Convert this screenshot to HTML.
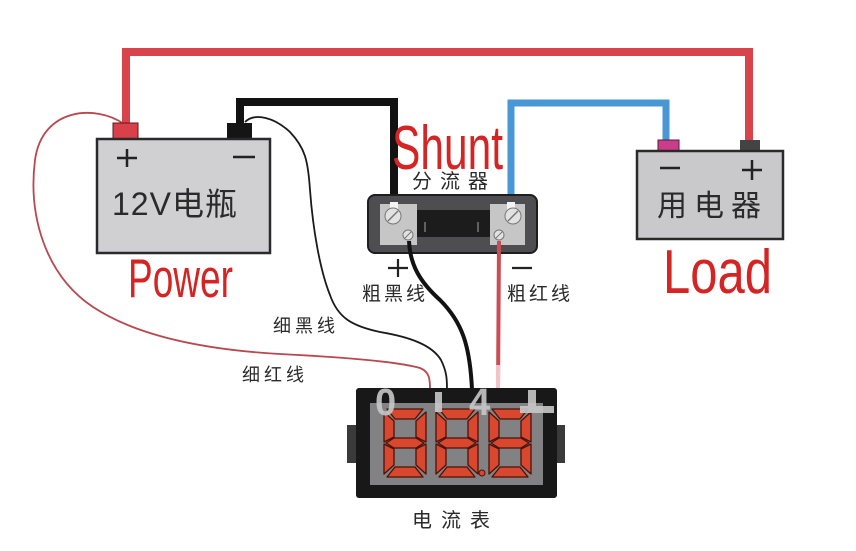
<!DOCTYPE html>
<html>
<head>
<meta charset="utf-8">
<style>
  html,body{margin:0;padding:0;background:#fff;}
  svg{display:block;}
  .cjk{font-family:"Liberation Sans","Noto Sans CJK SC",sans-serif;fill:#2a2a2a;}
  .red{font-family:"Liberation Sans",sans-serif;fill:#d42424;}
</style>
</head>
<body>
<svg width="856" height="551" viewBox="0 0 856 551" xmlns="http://www.w3.org/2000/svg">
  <defs>
    <g id="digit">
      <g fill="#d9472e" stroke="#4a1208" stroke-width="1.3" stroke-linejoin="round">
        <polygon points="4,1 40,1 32,11 12,11"/>
        <polygon points="1,4 11,13 11,29 1,34"/>
        <polygon points="43,4 43,34 33,29 33,13"/>
        <polygon points="3,35 11,30 33,30 41,35 33,40 11,40"/>
        <polygon points="1,36 11,41 11,57 1,66"/>
        <polygon points="43,36 43,66 33,57 33,41"/>
        <polygon points="4,69 12,59 32,59 40,69"/>
      </g>
    </g>
    <clipPath id="meterclip"><rect x="356" y="388" width="201" height="110"/></clipPath>
  </defs>

  <!-- thin red wire -->
  <path d="M124,124 C95,104 42,108 35,160 C28,215 45,275 93,307 C140,338 210,350 280,354 C340,357 395,361 420,368 C430,372 430,380 430,390" fill="none" stroke="#b8474f" stroke-width="1.8"/>
  <!-- thin black wire -->
  <path d="M245,122 C255,112 275,118 290,132 C305,148 308,160 310,190 C313,230 320,270 330,295 C338,318 352,326 380,332 C410,337 432,345 441,360 C447,372 447,380 447,390" fill="none" stroke="#1a1a1a" stroke-width="1.8"/>

  <!-- thick red top wire -->
  <path d="M126,126 V52 H749 V142" fill="none" stroke="#d8434c" stroke-width="8"/>
  <!-- thick black wire -->
  <path d="M240,126 V102 H394 V202" fill="none" stroke="#121212" stroke-width="8"/>
  <!-- blue wire -->
  <path d="M511,206 V103 H666 V142" fill="none" stroke="#4a97d5" stroke-width="7"/>

  <!-- battery -->
  <rect x="113" y="123" width="25" height="16" fill="#d9404a" stroke="#5a1a1a" stroke-width="1"/>
  <rect x="227" y="123" width="25" height="16" fill="#151515"/>
  <rect x="97" y="139" width="173" height="114" fill="#d0d0d2" stroke="#2a2a2a" stroke-width="2.5"/>
  <path d="M117,158 H137 M127,149 V167" stroke="#222" stroke-width="2.5"/>
  <path d="M233,157 H255" stroke="#222" stroke-width="2.5"/>
  <text class="cjk" x="112" y="215" font-size="32" letter-spacing="1">12V电瓶</text>
  <text class="red" x="128" y="297" font-size="55" textLength="105" lengthAdjust="spacingAndGlyphs">Power</text>

  <!-- load -->
  <rect x="658" y="140" width="21" height="11" fill="#c93d8a" stroke="#5a1a3a" stroke-width="1"/>
  <rect x="740" y="140" width="20" height="11" fill="#444"/>
  <rect x="637" y="151" width="146" height="88" fill="#c9c9cb" stroke="#2a2a2a" stroke-width="2.5"/>
  <path d="M660,168 H680" stroke="#222" stroke-width="2.5"/>
  <path d="M742,170 H762 M752,160 V180" stroke="#222" stroke-width="2.5"/>
  <text class="cjk" x="657" y="216" font-size="30" letter-spacing="7">用电器</text>
  <text class="red" x="663" y="293" font-size="62" textLength="109" lengthAdjust="spacingAndGlyphs">Load</text>

  <!-- shunt -->
  <text class="red" x="392" y="169" font-size="62" textLength="111" lengthAdjust="spacingAndGlyphs">Shunt</text>
  <text class="cjk" x="412" y="188" font-size="20" letter-spacing="8">分流器</text>
  <rect x="368" y="195" width="169" height="58" rx="7" fill="#4e4e50" stroke="#1e1e1e" stroke-width="2"/>
  <rect x="380" y="204" width="37" height="41" fill="#c6c6c6"/>
  <rect x="490" y="204" width="35" height="41" fill="#c6c6c6"/>
  <rect x="417" y="210" width="73" height="27" fill="#1c1c1c"/>
  <path d="M425,222 V232 M478,222 V232" stroke="#777" stroke-width="1.5"/>
  <rect x="390" y="202" width="8" height="9" fill="#f4f4f4"/>
  <rect x="507" y="202" width="8" height="9" fill="#f4f4f4"/>
  <circle cx="393" cy="216" r="8" fill="#e2e2e2" stroke="#777" stroke-width="1"/>
  <path d="M388,221 L398,211" stroke="#777" stroke-width="1.5"/>
  <circle cx="513" cy="216" r="8" fill="#e2e2e2" stroke="#777" stroke-width="1"/>
  <path d="M508,221 L518,211" stroke="#777" stroke-width="1.5"/>
  <circle cx="408" cy="235" r="5" fill="#e2e2e2" stroke="#777" stroke-width="1"/>
  <path d="M405,238 L411,232" stroke="#777" stroke-width="1"/>
  <circle cx="499" cy="235" r="5" fill="#e2e2e2" stroke="#777" stroke-width="1"/>
  <path d="M496,238 L502,232" stroke="#777" stroke-width="1"/>

  <!-- thick black & red to meter -->
  <path d="M409,241 C410,265 420,282 440,300 C462,322 470,345 472,390" fill="none" stroke="#121212" stroke-width="4"/>
  <path d="M499,241 C499,290 498,340 498,390" fill="none" stroke="#cc4c55" stroke-width="4"/>
  <path d="M498,365 V390" stroke="#f0c4c8" stroke-width="4"/>

  <path d="M388,268 H408 M398,259 V277" stroke="#222" stroke-width="2.2"/>
  <path d="M512,268 H532" stroke="#222" stroke-width="2.2"/>
  <text class="cjk" x="362" y="300" font-size="19" letter-spacing="3">粗黑线</text>
  <text class="cjk" x="507" y="300" font-size="19" letter-spacing="3">粗红线</text>
  <text class="cjk" x="273" y="332" font-size="18" letter-spacing="4">细黑线</text>
  <text class="cjk" x="242" y="381" font-size="18" letter-spacing="4">细红线</text>

  <!-- meter -->
  <rect x="347" y="425" width="12" height="38" fill="#3a3a3a"/>
  <rect x="554" y="425" width="11" height="38" fill="#3a3a3a"/>
  <rect x="356" y="388" width="201" height="110" rx="3" fill="#181818"/>
  <rect x="370" y="403" width="173" height="82" fill="#828284"/>
  <use href="#digit" x="383" y="408"/>
  <use href="#digit" x="435" y="408"/>
  <use href="#digit" x="488" y="408"/>
  <circle cx="482" cy="473" r="3" fill="#d9472e" stroke="#4a1208" stroke-width="1"/>
  <g clip-path="url(#meterclip)" fill="#c8c8c8" opacity="0.9" font-family="Liberation Sans, sans-serif" font-size="38" font-weight="bold">
    <text x="375" y="415">0</text>
    <rect x="435" y="392" width="7" height="20"/>
    <text x="469" y="415">4</text>
    <rect x="528" y="390" width="8" height="22"/>
    <rect x="520" y="406" width="34" height="7"/>
  </g>
  <text class="cjk" x="412" y="527" font-size="20" letter-spacing="9">电流表</text>
</svg>
</body>
</html>
